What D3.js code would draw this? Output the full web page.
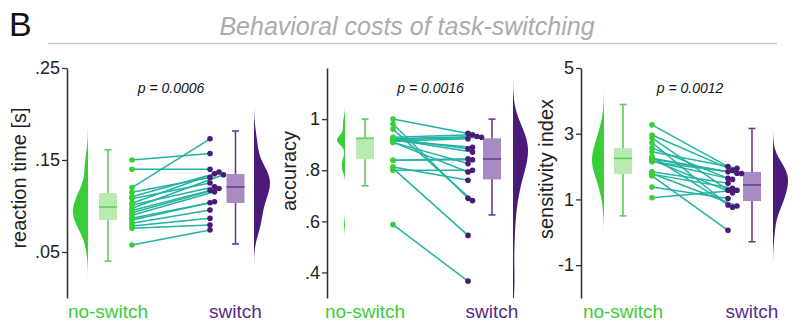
<!DOCTYPE html>
<html><head><meta charset="utf-8">
<script src="https://cdn.jsdelivr.net/npm/d3@7"></script>
<style>
html,body{margin:0;padding:0;background:#fff;}
svg{display:block;font-family:"Liberation Sans",Arial,Helvetica,sans-serif;}
</style></head>
<body>
<svg id="chart" width="799" height="335"></svg>
<script>
// ---------- DATA ----------
const categories = ["no-switch", "switch"];
const panelTitle = "Behavioral costs of task-switching";
const panelLetter = "B";
const yLabels = ["reaction time [s]", "accuracy", "sensitivity index"];
const pValues = ["p = 0.0006", "p = 0.0016", "p = 0.0012"];

// reaction time (s), paired per subject
const rtNoSwitch = [0.150,0.140,0.120,0.115,0.110,0.108,0.103,0.101,0.0975,0.095,0.0927,0.090,0.0866,0.0848,0.0812,0.0783,0.0757,0.0576];
const rtSwitch   = [0.157,0.140,0.173,0.131,0.135,0.125,0.137,0.121,0.134,0.117,0.119,0.1155,0.1036,0.1047,0.0957,0.0866,0.0793,0.0739];
// accuracy
const accNoSwitch = [1.00,0.981,0.961,0.929,0.923,0.923,0.920,0.919,0.916,0.913,0.909,0.909,0.839,0.839,0.813,0.807,0.800,0.587];
const accSwitch   = [0.944,0.690,0.681,0.939,0.932,0.884,0.871,0.929,0.890,0.923,0.826,0.793,0.845,0.841,0.761,0.545,0.800,0.366];
// sensitivity index d'
const dNoSwitch = [3.27,2.96,2.87,2.73,2.57,2.45,2.30,2.25,2.23,2.20,2.17,2.15,1.84,1.79,1.77,1.72,1.38,1.05];
const dSwitch   = [2.00,1.89,1.28,0.83,1.64,1.95,0.76,1.84,1.80,1.20,1.61,1.79,1.49,0.80,1.34,0.06,1.03,1.28];

// box-plot summaries [lower whisker, q1, median, q3, upper whisker]
const rtBoxNo  = [0.040,0.0848,0.0989,0.1141,0.161];
const rtBoxSw  = [0.0587,0.1033,0.1207,0.1348,0.1815];
const accBoxNo = [0.739,0.843,0.925,0.925,1.0];
const accBoxSw = [0.625,0.764,0.844,0.925,1.0];
const dBoxNo   = [0.50,1.77,2.25,2.56,3.89];
const dBoxSw   = [-0.29,0.95,1.44,1.84,3.16];

// axis ticks
const rtTicks = [0.05,0.15,0.25],  rtTickLabels = [".05",".15",".25"];
const accTicks = [0.4,0.6,0.8,1],  accTickLabels = [".4",".6",".8","1"];
const dTicks = [-1,1,3,5],         dTickLabels = ["-1","1","3","5"];
const rtDomain = [0,0.25], accDomain = [0.3,1.2], dDomain = [-2,5];
// kernel bandwidths [no-switch, switch]
const rtBw = [0.013,0.013], accBw = [0.018,0.07], dBw = [0.4,0.37];

// ---------- STYLE / LAYOUT ----------
const C = {
  green:"#3acd3a", greenBox:"#b9eab0", greenLine:"#5ccf5c",
  purple:"#4b1a78", purpleBox:"#a88bc3", purpleLine:"#6a3c95",
  teal:"#22b3a3", axis:"#333"
};
const panels = [
  {ax:67,  vg:21, bg:41, pg:65, ps:143, bs:168.5, vs:187, wg:15, ws:16, no:rtNoSwitch, sw:rtSwitch, boxNo:rtBoxNo, boxSw:rtBoxSw, ticks:rtTicks, tl:rtTickLabels, dom:rtDomain, bw:rtBw, lab:yLabels[0], p:pValues[0], labX:26, labY:178},
  {ax:327, vg:18, bg:38, pg:66, ps:141, bs:165, vs:186, wg:8, ws:15, no:accNoSwitch, sw:accSwitch, boxNo:accBoxNo, boxSw:accBoxSw, ticks:accTicks, tl:accTickLabels, dom:accDomain, bw:accBw, lab:yLabels[1], p:pValues[1], labX:296, labY:171},
  {ax:581, vg:23, bg:42, pg:71, ps:147, bs:171, vs:192, wg:12, ws:15, no:dNoSwitch, sw:dSwitch, boxNo:dBoxNo, boxSw:dBoxSw, ticks:dTicks, tl:dTickLabels, dom:dDomain, bw:dBw, lab:yLabels[2], p:pValues[2], labX:553, labY:169}
];
const yTop = 68, yBot = 298;

const svg = d3.select("#chart");

// header
svg.append("text").attr("x",9).attr("y",36).attr("font-size",34).attr("fill","#111").text(panelLetter);
svg.append("text").attr("x",407).attr("y",35).attr("text-anchor","middle")
  .attr("font-size",25).attr("font-style","italic").attr("fill","#ababab").text(panelTitle);
svg.append("line").attr("x1",48).attr("x2",777).attr("y1",43.5).attr("y2",43.5)
  .attr("stroke","#c4c4c4").attr("stroke-width",1.6);

function kde(data, bw, lo, hi, n){
  const grid = d3.range(n+1).map(i => lo + (hi-lo)*i/n);
  return grid.map(v => [v, d3.sum(data, x => Math.exp(-0.5*((v-x)/bw)**2))]);
}

panels.forEach(P => {
  const g = svg.append("g");
  const y = d3.scaleLinear().domain(P.dom).range([yBot, yTop]);

  // axis
  const axis = d3.axisLeft(y).tickValues(P.ticks).tickFormat((d,i)=>P.tl[i]).tickSize(5).tickSizeOuter(0).tickPadding(2);
  const ag = g.append("g").attr("transform",`translate(${P.ax},0)`).call(axis);
  ag.select(".domain").attr("stroke",C.axis).attr("stroke-width",1.6);
  ag.selectAll(".tick line").attr("stroke",C.axis).attr("stroke-width",1.3);
  ag.selectAll(".tick text").attr("font-size",18).attr("fill","#222").attr("font-family","Liberation Sans, Arial, sans-serif");

  // y label
  g.append("text").attr("transform",`translate(${P.labX},${P.labY}) rotate(-90)`)
    .attr("text-anchor","middle").attr("font-size",20).attr("fill","#222").text(P.lab);

  // violins
  [[P.no, P.bw[0], P.ax+P.vg, -1, P.wg, C.green],[P.sw, P.bw[1], P.ax+P.vs, 1, P.ws, C.purple]].forEach(([data,bw,x0,dir,w,col])=>{
    const lo = Math.max(P.dom[0], d3.min(data)-3*bw), hi = Math.min(P.dom[1], d3.max(data)+3*bw);
    const dens = kde(data,bw,lo,hi,120);
    const mx = d3.max(dens, d=>d[1]);
    const wS = d3.scaleLinear().domain([0,mx]).range([0,w]);
    const area = d3.area().curve(d3.curveBasis)
      .y(d=>y(d[0])).x0(x0).x1(d=>x0 + dir*wS(d[1]));
    g.append("path").datum(dens).attr("d",area).attr("fill",col);
  });

  // boxes
  [[P.boxNo, P.ax+P.bg, C.greenBox, C.greenLine],[P.boxSw, P.ax+P.bs, C.purpleBox, C.purpleLine]].forEach(([b,cx,fill,line])=>{
    const bw = 18, cap = 7;
    g.append("line").attr("x1",cx).attr("x2",cx).attr("y1",y(b[4])).attr("y2",y(b[0])).attr("stroke",line).attr("stroke-width",1.6);
    [b[0],b[4]].forEach(v=>g.append("line").attr("x1",cx-cap/2).attr("x2",cx+cap/2).attr("y1",y(v)).attr("y2",y(v)).attr("stroke",line).attr("stroke-width",1.6));
    g.append("rect").attr("x",cx-bw/2).attr("width",bw).attr("y",y(b[3])).attr("height",y(b[1])-y(b[3]))
      .attr("fill",fill);
    g.append("line").attr("x1",cx-bw/2).attr("x2",cx+bw/2).attr("y1",y(b[2])).attr("y2",y(b[2])).attr("stroke",line).attr("stroke-width",1.6);
  });

  // paired points with simple dodge for switch points
  const xg = P.ax+P.pg, xs = P.ax+P.ps;
  const placed = [];
  const swX = P.sw.map(v=>{
    const py = y(v); let dx = 0;
    while (placed.some(q => Math.abs(q[1]-py) < 4.5 && Math.abs(q[0]-(xs+dx)) < 4.5)) dx += 4.5;
    placed.push([xs+dx, py]); return xs+dx;
  });
  P.no.forEach((v,i)=>{
    g.append("line").attr("x1",xg).attr("y1",y(v)).attr("x2",swX[i]).attr("y2",y(P.sw[i]))
      .attr("stroke",C.teal).attr("stroke-width",1.5);
  });
  P.no.forEach(v=>g.append("circle").attr("cx",xg).attr("cy",y(v)).attr("r",2.8).attr("fill",C.green));
  P.sw.forEach((v,i)=>g.append("circle").attr("cx",swX[i]).attr("cy",y(v)).attr("r",2.8).attr("fill",C.purple));

  // p value
  g.append("text").attr("x",(xg+xs)/2).attr("y",93).attr("text-anchor","middle")
    .attr("font-size",14).attr("font-style","italic").attr("fill","#111").text(P.p);

  // category labels
  g.append("text").attr("x",P.ax+P.bg).attr("y",318).attr("text-anchor","middle").attr("font-size",19).attr("fill",C.green).text(categories[0]);
  g.append("text").attr("x",P.ax+P.bs).attr("y",318).attr("text-anchor","middle").attr("font-size",19).attr("fill","#5a2b88").text(categories[1]);
});
</script>
</body></html>
